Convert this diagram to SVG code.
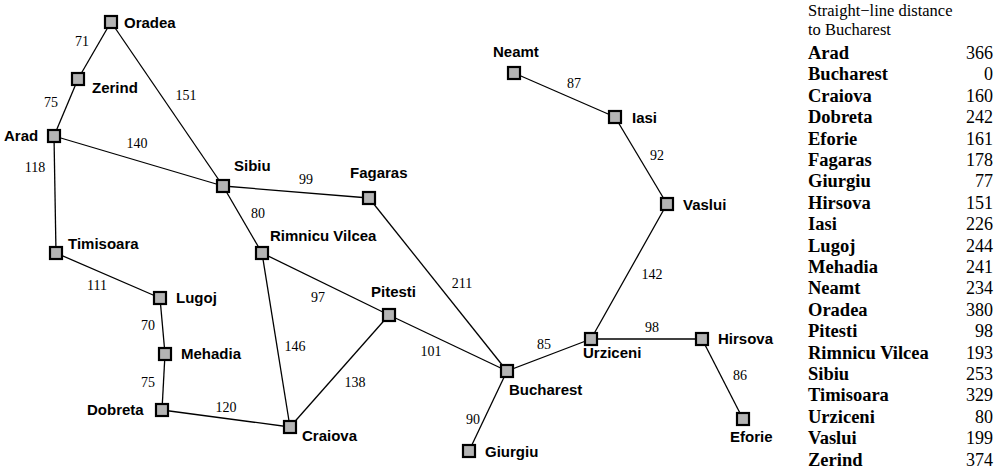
<svg xmlns="http://www.w3.org/2000/svg" width="997" height="468" viewBox="0 0 997 468">
<style>
.n{fill:#b4b4b4;stroke:#000;stroke-width:2.2}
.l{font-family:"Liberation Sans",Arial,sans-serif;font-weight:bold;font-size:15px}
.e{font-family:"Liberation Serif",serif;font-size:14px;text-anchor:middle}
#edges line{stroke:#000;stroke-width:1.3}
.t{font-family:"Liberation Serif",serif;font-weight:bold;font-size:18.5px}
.v{font-family:"Liberation Serif",serif;font-size:18px;text-anchor:end}
.h{font-family:"Liberation Serif",serif;font-size:16.5px}
</style>
<rect width="997" height="468" fill="#fff"/>
<g id="edges">
<line x1="111" y1="22" x2="78" y2="79"/><line x1="78" y1="79" x2="54" y2="136"/>
<line x1="111" y1="22" x2="223" y2="186"/><line x1="54" y1="136" x2="223" y2="186"/>
<line x1="54" y1="136" x2="56" y2="253"/><line x1="223" y1="186" x2="369" y2="198"/>
<line x1="223" y1="186" x2="262" y2="253"/><line x1="56" y1="253" x2="160" y2="298"/>
<line x1="160" y1="298" x2="165" y2="354"/><line x1="165" y1="354" x2="162" y2="410"/>
<line x1="162" y1="410" x2="290" y2="427"/><line x1="262" y1="253" x2="290" y2="427"/>
<line x1="262" y1="253" x2="389" y2="315"/><line x1="389" y1="315" x2="290" y2="427"/>
<line x1="389" y1="315" x2="507" y2="371"/><line x1="369" y1="198" x2="507" y2="371"/>
<line x1="507" y1="371" x2="469" y2="451"/><line x1="507" y1="371" x2="591" y2="339"/>
<line x1="591" y1="339" x2="702" y2="339"/><line x1="702" y1="339" x2="743" y2="419"/>
<line x1="591" y1="339" x2="667" y2="204"/><line x1="667" y1="204" x2="615" y2="117"/>
<line x1="615" y1="117" x2="514" y2="73"/>
<text class="e" x="82" y="46">71</text><text class="e" x="51" y="107">75</text>
<text class="e" x="186" y="100">151</text><text class="e" x="137" y="148">140</text>
<text class="e" x="35" y="172">118</text><text class="e" x="306" y="184">99</text>
<text class="e" x="258" y="218">80</text><text class="e" x="97" y="290">111</text>
<text class="e" x="148" y="330">70</text><text class="e" x="148" y="387">75</text>
<text class="e" x="226" y="412">120</text><text class="e" x="295" y="351">146</text>
<text class="e" x="318" y="302">97</text><text class="e" x="355" y="387">138</text>
<text class="e" x="431" y="356">101</text><text class="e" x="462" y="288">211</text>
<text class="e" x="544" y="349">85</text><text class="e" x="473" y="424">90</text>
<text class="e" x="652" y="279">142</text><text class="e" x="652" y="332">98</text>
<text class="e" x="740" y="380">86</text><text class="e" x="657" y="160">92</text>
<text class="e" x="574" y="88">87</text>
</g>
<g id="oradea"><rect class="n" x="105" y="16" width="12" height="12"/><text class="l" x="124" y="28">Oradea</text></g>
<g id="zerind"><rect class="n" x="72" y="73" width="12" height="12"/><text class="l" x="92" y="93">Zerind</text></g>
<g id="arad"><rect class="n" x="48" y="130" width="12" height="12"/><text class="l" x="4" y="141">Arad</text></g>
<g id="sibiu"><rect class="n" x="217" y="180" width="12" height="12"/><text class="l" x="234" y="171">Sibiu</text></g>
<g id="fagaras"><rect class="n" x="363" y="192" width="12" height="12"/><text class="l" x="350" y="178">Fagaras</text></g>
<g id="timisoara"><rect class="n" x="50" y="247" width="12" height="12"/><text class="l" x="68" y="249">Timisoara</text></g>
<g id="lugoj"><rect class="n" x="154" y="292" width="12" height="12"/><text class="l" x="176" y="303">Lugoj</text></g>
<g id="mehadia"><rect class="n" x="159" y="348" width="12" height="12"/><text class="l" x="181" y="359">Mehadia</text></g>
<g id="dobreta"><rect class="n" x="156" y="404" width="12" height="12"/><text class="l" x="87" y="415">Dobreta</text></g>
<g id="craiova"><rect class="n" x="284" y="421" width="12" height="12"/><text class="l" x="302" y="441">Craiova</text></g>
<g id="rimnicu"><rect class="n" x="256" y="247" width="12" height="12"/><text class="l" x="270" y="241">Rimnicu Vilcea</text></g>
<g id="pitesti"><rect class="n" x="383" y="309" width="12" height="12"/><text class="l" x="371" y="297">Pitesti</text></g>
<g id="bucharest"><rect class="n" x="501" y="365" width="12" height="12"/><text class="l" x="509" y="395">Bucharest</text></g>
<g id="giurgiu"><rect class="n" x="463" y="445" width="12" height="12"/><text class="l" x="485" y="457">Giurgiu</text></g>
<g id="urziceni"><rect class="n" x="585" y="333" width="12" height="12"/><text class="l" x="583" y="358">Urziceni</text></g>
<g id="hirsova"><rect class="n" x="696" y="333" width="12" height="12"/><text class="l" x="718" y="344">Hirsova</text></g>
<g id="eforie"><rect class="n" x="737" y="413" width="12" height="12"/><text class="l" x="730" y="442">Eforie</text></g>
<g id="vaslui"><rect class="n" x="661" y="198" width="12" height="12"/><text class="l" x="683" y="210">Vaslui</text></g>
<g id="iasi"><rect class="n" x="609" y="111" width="12" height="12"/><text class="l" x="632" y="123">Iasi</text></g>
<g id="neamt"><rect class="n" x="508" y="67" width="12" height="12"/><text class="l" x="493" y="57">Neamt</text></g>
<g id="table">
<text class="h" x="808" y="16">Straight−line distance</text><text class="h" x="808" y="35">to Bucharest</text>
<text class="t" x="808" y="59">Arad</text><text class="v" x="993" y="59">366</text>
<text class="t" x="808" y="80.4">Bucharest</text><text class="v" x="993" y="80.4">0</text>
<text class="t" x="808" y="101.8">Craiova</text><text class="v" x="993" y="101.8">160</text>
<text class="t" x="808" y="123.2">Dobreta</text><text class="v" x="993" y="123.2">242</text>
<text class="t" x="808" y="144.6">Eforie</text><text class="v" x="993" y="144.6">161</text>
<text class="t" x="808" y="166">Fagaras</text><text class="v" x="993" y="166">178</text>
<text class="t" x="808" y="187.4">Giurgiu</text><text class="v" x="993" y="187.4">77</text>
<text class="t" x="808" y="208.8">Hirsova</text><text class="v" x="993" y="208.8">151</text>
<text class="t" x="808" y="230.2">Iasi</text><text class="v" x="993" y="230.2">226</text>
<text class="t" x="808" y="251.6">Lugoj</text><text class="v" x="993" y="251.6">244</text>
<text class="t" x="808" y="273">Mehadia</text><text class="v" x="993" y="273">241</text>
<text class="t" x="808" y="294.4">Neamt</text><text class="v" x="993" y="294.4">234</text>
<text class="t" x="808" y="315.8">Oradea</text><text class="v" x="993" y="315.8">380</text>
<text class="t" x="808" y="337.2">Pitesti</text><text class="v" x="993" y="337.2">98</text>
<text class="t" x="808" y="358.6">Rimnicu Vilcea</text><text class="v" x="993" y="358.6">193</text>
<text class="t" x="808" y="380">Sibiu</text><text class="v" x="993" y="380">253</text>
<text class="t" x="808" y="401.4">Timisoara</text><text class="v" x="993" y="401.4">329</text>
<text class="t" x="808" y="422.8">Urziceni</text><text class="v" x="993" y="422.8">80</text>
<text class="t" x="808" y="444.2">Vaslui</text><text class="v" x="993" y="444.2">199</text>
<text class="t" x="808" y="465.6">Zerind</text><text class="v" x="993" y="465.6">374</text>
</g>
</svg>
